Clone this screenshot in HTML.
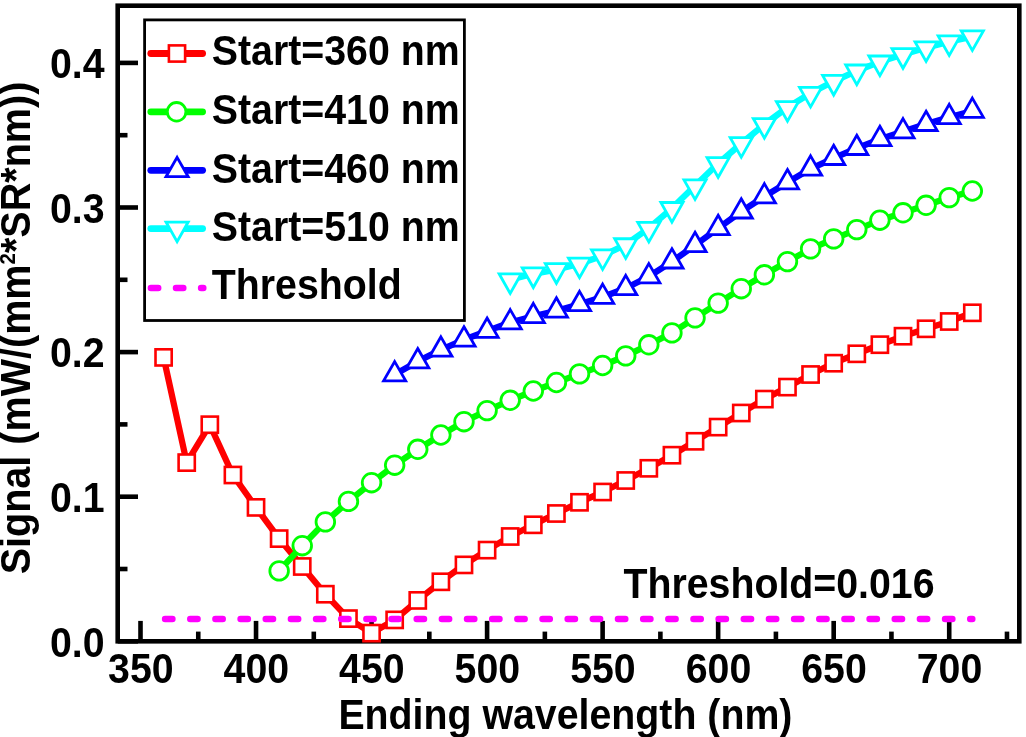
<!DOCTYPE html>
<html lang="en"><head><meta charset="utf-8"><title>Signal vs ending wavelength</title>
<style>html,body{margin:0;padding:0;background:#fff;}svg{display:block;}text{font-family:"Liberation Sans",Arial,Helvetica,sans-serif;font-weight:bold;fill:#000;}</style>
</head><body>
<svg width="1026" height="737" viewBox="0 0 1026 737">
<rect x="0" y="0" width="1026" height="737" fill="#fff"/>
<g stroke="#000" stroke-width="4.6" fill="none">
<line x1="140.5" y1="641.3" x2="140.5" y2="620.9"/>
<line x1="256.03" y1="641.3" x2="256.03" y2="620.9"/>
<line x1="371.56" y1="641.3" x2="371.56" y2="620.9"/>
<line x1="487.09" y1="641.3" x2="487.09" y2="620.9"/>
<line x1="602.62" y1="641.3" x2="602.62" y2="620.9"/>
<line x1="718.15" y1="641.3" x2="718.15" y2="620.9"/>
<line x1="833.68" y1="641.3" x2="833.68" y2="620.9"/>
<line x1="949.21" y1="641.3" x2="949.21" y2="620.9"/>
<line x1="198.26" y1="641.3" x2="198.26" y2="631.6"/>
<line x1="313.79" y1="641.3" x2="313.79" y2="631.6"/>
<line x1="429.32" y1="641.3" x2="429.32" y2="631.6"/>
<line x1="544.86" y1="641.3" x2="544.86" y2="631.6"/>
<line x1="660.38" y1="641.3" x2="660.38" y2="631.6"/>
<line x1="775.91" y1="641.3" x2="775.91" y2="631.6"/>
<line x1="891.45" y1="641.3" x2="891.45" y2="631.6"/>
<line x1="1006.98" y1="641.3" x2="1006.98" y2="631.6"/>
<line x1="117.7" y1="641.3" x2="138" y2="641.3"/>
<line x1="117.7" y1="496.7" x2="138" y2="496.7"/>
<line x1="117.7" y1="352.1" x2="138" y2="352.1"/>
<line x1="117.7" y1="207.5" x2="138" y2="207.5"/>
<line x1="117.7" y1="62.9" x2="138" y2="62.9"/>
<line x1="117.7" y1="569" x2="127.5" y2="569"/>
<line x1="117.7" y1="424.4" x2="127.5" y2="424.4"/>
<line x1="117.7" y1="279.8" x2="127.5" y2="279.8"/>
<line x1="117.7" y1="135.2" x2="127.5" y2="135.2"/>
<rect x="117.7" y="5.7" width="901.6" height="635.6" stroke-linejoin="miter"/>
</g>
<g font-size="39.3">
<text transform="translate(140.8 683.2) scale(1 1.07)" text-anchor="middle">350</text>
<text transform="translate(256.33 683.2) scale(1 1.07)" text-anchor="middle">400</text>
<text transform="translate(371.86 683.2) scale(1 1.07)" text-anchor="middle">450</text>
<text transform="translate(487.39 683.2) scale(1 1.07)" text-anchor="middle">500</text>
<text transform="translate(602.92 683.2) scale(1 1.07)" text-anchor="middle">550</text>
<text transform="translate(718.45 683.2) scale(1 1.07)" text-anchor="middle">600</text>
<text transform="translate(833.98 683.2) scale(1 1.07)" text-anchor="middle">650</text>
<text transform="translate(949.51 683.2) scale(1 1.07)" text-anchor="middle">700</text>
<text transform="translate(104.5 656.6) scale(1 1.07)" text-anchor="end">0.0</text>
<text transform="translate(104.5 512) scale(1 1.07)" text-anchor="end">0.1</text>
<text transform="translate(104.5 367.4) scale(1 1.07)" text-anchor="end">0.2</text>
<text transform="translate(104.5 222.8) scale(1 1.07)" text-anchor="end">0.3</text>
<text transform="translate(104.5 78.2) scale(1 1.07)" text-anchor="end">0.4</text>
<text transform="translate(565.4 728.5) scale(1 1.07)" text-anchor="middle">Ending wavelength (nm)</text>
<text transform="translate(30 328) rotate(-90) scale(1 1.07)" font-size="39.57" text-anchor="middle">Signal (mW/(mm<tspan font-size="20.5" dy="-13.6">2</tspan><tspan dy="13.6">*SR*nm))</tspan></text>
<text transform="translate(623.4 597.9) scale(1 1.07)">Threshold=0.016</text>
</g>
<g stroke="#f00" fill="#fff">
<polyline fill="none" stroke-width="6.3" stroke-linejoin="round" points="163.61,357.4 186.71,462.6 209.82,424.7 232.92,475 256.03,507.4 279.14,538.6 302.24,566.5 325.35,594.2 348.45,618.6 371.56,633.1 394.67,619.9 417.77,600.4 440.88,581.8 463.98,564.9 487.09,550.1 510.2,536.5 533.3,524.8 556.41,513.5 579.51,502.3 602.62,492 625.73,480.5 648.83,468.3 671.94,455.2 695.04,441.3 718.15,427.1 741.26,413 764.36,399.1 787.47,387.1 810.57,374.5 833.68,363.2 856.79,353.8 879.89,344.7 903,336.2 926.1,328.8 949.21,321.5 972.32,312.8"/>
<g stroke-width="2.6">
<rect x="155.51" y="349.3" width="16.2" height="16.2"/>
<rect x="178.61" y="454.5" width="16.2" height="16.2"/>
<rect x="201.72" y="416.6" width="16.2" height="16.2"/>
<rect x="224.82" y="466.9" width="16.2" height="16.2"/>
<rect x="247.93" y="499.3" width="16.2" height="16.2"/>
<rect x="271.04" y="530.5" width="16.2" height="16.2"/>
<rect x="294.14" y="558.4" width="16.2" height="16.2"/>
<rect x="317.25" y="586.1" width="16.2" height="16.2"/>
<rect x="340.35" y="610.5" width="16.2" height="16.2"/>
<rect x="363.46" y="625" width="16.2" height="16.2"/>
<rect x="386.57" y="611.8" width="16.2" height="16.2"/>
<rect x="409.67" y="592.3" width="16.2" height="16.2"/>
<rect x="432.78" y="573.7" width="16.2" height="16.2"/>
<rect x="455.88" y="556.8" width="16.2" height="16.2"/>
<rect x="478.99" y="542" width="16.2" height="16.2"/>
<rect x="502.1" y="528.4" width="16.2" height="16.2"/>
<rect x="525.2" y="516.7" width="16.2" height="16.2"/>
<rect x="548.31" y="505.4" width="16.2" height="16.2"/>
<rect x="571.41" y="494.2" width="16.2" height="16.2"/>
<rect x="594.52" y="483.9" width="16.2" height="16.2"/>
<rect x="617.63" y="472.4" width="16.2" height="16.2"/>
<rect x="640.73" y="460.2" width="16.2" height="16.2"/>
<rect x="663.84" y="447.1" width="16.2" height="16.2"/>
<rect x="686.94" y="433.2" width="16.2" height="16.2"/>
<rect x="710.05" y="419" width="16.2" height="16.2"/>
<rect x="733.16" y="404.9" width="16.2" height="16.2"/>
<rect x="756.26" y="391" width="16.2" height="16.2"/>
<rect x="779.37" y="379" width="16.2" height="16.2"/>
<rect x="802.47" y="366.4" width="16.2" height="16.2"/>
<rect x="825.58" y="355.1" width="16.2" height="16.2"/>
<rect x="848.69" y="345.7" width="16.2" height="16.2"/>
<rect x="871.79" y="336.6" width="16.2" height="16.2"/>
<rect x="894.9" y="328.1" width="16.2" height="16.2"/>
<rect x="918" y="320.7" width="16.2" height="16.2"/>
<rect x="941.11" y="313.4" width="16.2" height="16.2"/>
<rect x="964.22" y="304.7" width="16.2" height="16.2"/>
</g></g>
<g stroke="#0f0" fill="#fff">
<polyline fill="none" stroke-width="6.3" stroke-linejoin="round" points="279.14,570.9 302.24,545.7 325.35,521.9 348.45,501.4 371.56,482.7 394.67,465.2 417.77,449.3 440.88,435 463.98,421.7 487.09,410.6 510.2,400.3 533.3,391 556.41,382.5 579.51,373.9 602.62,365.5 625.73,355.9 648.83,344.8 671.94,332.9 695.04,317.9 718.15,303.1 741.26,288.7 764.36,274.8 787.47,261.6 810.57,248.9 833.68,238.9 856.79,229.6 879.89,220.2 903,212.8 926.1,205.3 949.21,197.6 972.32,191"/>
<g stroke-width="2.8">
<circle cx="279.14" cy="570.9" r="9.3"/>
<circle cx="302.24" cy="545.7" r="9.3"/>
<circle cx="325.35" cy="521.9" r="9.3"/>
<circle cx="348.45" cy="501.4" r="9.3"/>
<circle cx="371.56" cy="482.7" r="9.3"/>
<circle cx="394.67" cy="465.2" r="9.3"/>
<circle cx="417.77" cy="449.3" r="9.3"/>
<circle cx="440.88" cy="435" r="9.3"/>
<circle cx="463.98" cy="421.7" r="9.3"/>
<circle cx="487.09" cy="410.6" r="9.3"/>
<circle cx="510.2" cy="400.3" r="9.3"/>
<circle cx="533.3" cy="391" r="9.3"/>
<circle cx="556.41" cy="382.5" r="9.3"/>
<circle cx="579.51" cy="373.9" r="9.3"/>
<circle cx="602.62" cy="365.5" r="9.3"/>
<circle cx="625.73" cy="355.9" r="9.3"/>
<circle cx="648.83" cy="344.8" r="9.3"/>
<circle cx="671.94" cy="332.9" r="9.3"/>
<circle cx="695.04" cy="317.9" r="9.3"/>
<circle cx="718.15" cy="303.1" r="9.3"/>
<circle cx="741.26" cy="288.7" r="9.3"/>
<circle cx="764.36" cy="274.8" r="9.3"/>
<circle cx="787.47" cy="261.6" r="9.3"/>
<circle cx="810.57" cy="248.9" r="9.3"/>
<circle cx="833.68" cy="238.9" r="9.3"/>
<circle cx="856.79" cy="229.6" r="9.3"/>
<circle cx="879.89" cy="220.2" r="9.3"/>
<circle cx="903" cy="212.8" r="9.3"/>
<circle cx="926.1" cy="205.3" r="9.3"/>
<circle cx="949.21" cy="197.6" r="9.3"/>
<circle cx="972.32" cy="191" r="9.3"/>
</g></g>
<g stroke="#00f" fill="#fff">
<polyline fill="none" stroke-width="6.3" stroke-linejoin="round" points="394.67,374.5 417.77,361.4 440.88,349.8 463.98,339.7 487.09,330.9 510.2,322.5 533.3,316.3 556.41,310.7 579.51,304.3 602.62,297 625.73,288.3 648.83,276.5 671.94,261.6 695.04,245.2 718.15,228.2 741.26,211.6 764.36,196.5 787.47,182.4 810.57,168.8 833.68,158.1 856.79,148.1 879.89,139.2 903,131.5 926.1,124.1 949.21,117.3 972.32,111"/>
<g stroke-width="2.8" stroke-linejoin="miter">
<path d="M394.67 361.6L405.74 380.9L383.59 380.9Z"/>
<path d="M417.77 348.5L428.85 367.8L406.7 367.8Z"/>
<path d="M440.88 336.9L451.95 356.2L429.8 356.2Z"/>
<path d="M463.98 326.8L475.06 346.1L452.91 346.1Z"/>
<path d="M487.09 318L498.17 337.3L476.01 337.3Z"/>
<path d="M510.2 309.6L521.27 328.9L499.12 328.9Z"/>
<path d="M533.3 303.4L544.38 322.7L522.23 322.7Z"/>
<path d="M556.41 297.8L567.48 317.1L545.33 317.1Z"/>
<path d="M579.51 291.4L590.59 310.7L568.44 310.7Z"/>
<path d="M602.62 284.1L613.7 303.4L591.54 303.4Z"/>
<path d="M625.73 275.4L636.8 294.7L614.65 294.7Z"/>
<path d="M648.83 263.6L659.91 282.9L637.76 282.9Z"/>
<path d="M671.94 248.7L683.01 268L660.86 268Z"/>
<path d="M695.04 232.3L706.12 251.6L683.97 251.6Z"/>
<path d="M718.15 215.3L729.23 234.6L707.07 234.6Z"/>
<path d="M741.26 198.7L752.33 218L730.18 218Z"/>
<path d="M764.36 183.6L775.44 202.9L753.29 202.9Z"/>
<path d="M787.47 169.5L798.54 188.8L776.39 188.8Z"/>
<path d="M810.57 155.9L821.65 175.2L799.5 175.2Z"/>
<path d="M833.68 145.2L844.76 164.5L822.6 164.5Z"/>
<path d="M856.79 135.2L867.86 154.5L845.71 154.5Z"/>
<path d="M879.89 126.3L890.97 145.6L868.82 145.6Z"/>
<path d="M903 118.6L914.07 137.9L891.92 137.9Z"/>
<path d="M926.1 111.2L937.18 130.5L915.03 130.5Z"/>
<path d="M949.21 104.4L960.29 123.7L938.13 123.7Z"/>
<path d="M972.32 98.1L983.39 117.4L961.24 117.4Z"/>
</g>
</g>
<g stroke="#0ff" fill="#fff">
<polyline fill="none" stroke-width="6.3" stroke-linejoin="round" points="510.2,279.65 533.3,273.8 556.41,269.55 579.51,263.9 602.62,255.75 625.73,244.6 648.83,228.2 671.94,208.35 695.04,185.7 718.15,163.55 741.26,143.5 764.36,124.4 787.47,107.4 810.57,93.2 833.68,81.3 856.79,70.85 879.89,61.85 903,54.55 926.1,47.75 949.21,41.7 972.32,36.75"/>
<g stroke-width="2.8" stroke-linejoin="miter">
<path d="M499.12 273.8L521.27 273.8L510.2 293.4Z"/>
<path d="M522.23 267.95L544.38 267.95L533.3 287.55Z"/>
<path d="M545.33 263.7L567.48 263.7L556.41 283.3Z"/>
<path d="M568.44 258.05L590.59 258.05L579.51 277.65Z"/>
<path d="M591.54 249.9L613.7 249.9L602.62 269.5Z"/>
<path d="M614.65 238.75L636.8 238.75L625.73 258.35Z"/>
<path d="M637.76 222.35L659.91 222.35L648.83 241.95Z"/>
<path d="M660.86 202.5L683.01 202.5L671.94 222.1Z"/>
<path d="M683.97 179.85L706.12 179.85L695.04 199.45Z"/>
<path d="M707.07 157.7L729.23 157.7L718.15 177.3Z"/>
<path d="M730.18 137.65L752.33 137.65L741.26 157.25Z"/>
<path d="M753.29 118.55L775.44 118.55L764.36 138.15Z"/>
<path d="M776.39 101.55L798.54 101.55L787.47 121.15Z"/>
<path d="M799.5 87.35L821.65 87.35L810.57 106.95Z"/>
<path d="M822.6 75.45L844.76 75.45L833.68 95.05Z"/>
<path d="M845.71 65L867.86 65L856.79 84.6Z"/>
<path d="M868.82 56L890.97 56L879.89 75.6Z"/>
<path d="M891.92 48.7L914.07 48.7L903 68.3Z"/>
<path d="M915.03 41.9L937.18 41.9L926.1 61.5Z"/>
<path d="M938.13 35.85L960.29 35.85L949.21 55.45Z"/>
<path d="M961.24 30.9L983.39 30.9L972.32 50.5Z"/>
</g>
</g>
<line x1="165.1" y1="619.1" x2="972.3" y2="619.1" stroke="#f0f" stroke-width="6.5" stroke-linecap="round" stroke-dasharray="7.3 17.86"/>
<rect x="144.6" y="19.9" width="319.8" height="300.6" fill="#fff" stroke="#000" stroke-width="2.8"/>
<g stroke-linecap="round" fill="#fff">
<line x1="150.8" y1="53.5" x2="202.6" y2="53.5" stroke="#f00" stroke-width="6.8"/>
<rect x="168.9" y="45.4" width="16.2" height="16.2" stroke="#f00" stroke-width="2.6"/>
<line x1="150.8" y1="111.8" x2="202.6" y2="111.8" stroke="#0f0" stroke-width="6.8"/>
<circle cx="176.6" cy="111.8" r="9.3" stroke="#0f0" stroke-width="2.8"/>
<line x1="150.8" y1="170.3" x2="202.6" y2="170.3" stroke="#00f" stroke-width="6.8"/>
<path d="M177.1 157.4L188.18 176.7L166.02 176.7Z" stroke="#00f" stroke-width="2.8" stroke-linecap="butt"/>
<line x1="150.8" y1="228.6" x2="202.6" y2="228.6" stroke="#0ff" stroke-width="6.8"/>
<path d="M166.02 222.05L188.18 222.05L177.1 241.65Z" stroke="#0ff" stroke-width="2.8" stroke-linecap="butt"/>
<line x1="150.9" y1="288" x2="203.3" y2="288" stroke="#f0f" stroke-width="6.5" stroke-dasharray="7.3 17.8"/>
</g>
<g font-size="39.3">
<text transform="translate(211.8 65) scale(1 1.07)">Start=360 nm</text>
<text transform="translate(211.8 123.7) scale(1 1.07)">Start=410 nm</text>
<text transform="translate(211.8 182.5) scale(1 1.07)">Start=460 nm</text>
<text transform="translate(211.8 241.3) scale(1 1.07)">Start=510 nm</text>
<text transform="translate(211.8 299.3) scale(1 1.07)">Threshold</text>
</g>
</svg>
</body></html>
